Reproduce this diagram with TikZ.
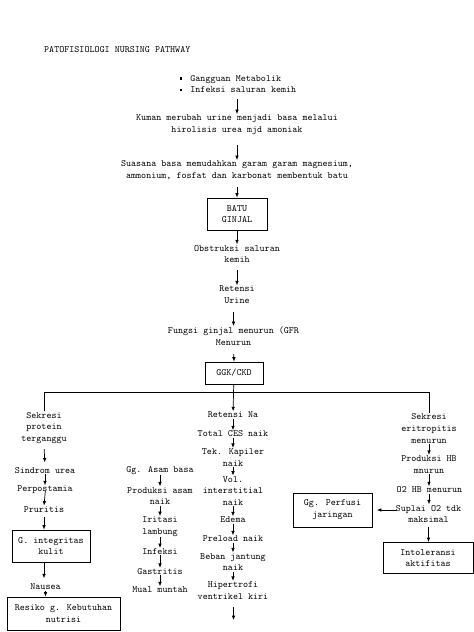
\documentclass[tikz,border=0pt]{standalone}
\usepackage{fontspec}
\usetikzlibrary{arrows.meta, positioning}
\tikzset{
    %Define standard arrow tip
    >={Latex[length=4.5pt,width=3.6pt]},
}
\newcommand{\sqbullet}{\rule[1.5pt]{2.2pt}{2.2pt}\hspace{8.5pt}}

\begin{document}
\begin{tikzpicture}[x=1pt, y=-1pt]
	\tikzset{
	  lbl/.style={align=center, inner sep=0.5pt,
	              font=\ttfamily\fontsize{9.6}{11.8}\selectfont},
	  bx/.style={lbl, draw, line width=0.7pt},
	  flow/.style={->, line width=0.7pt}
	}
	\useasboundingbox (0,0) rectangle (474,632);

	% main column
	\node[lbl, anchor=west] (title) at (43.5,50) {PATOFISIOLOGI NURSING PATHWAY};
	\node[lbl, anchor=west, align=left] (cause) at (179,84)
	     {\sqbullet Gangguan Metabolik\\ \sqbullet Infeksi saluran kemih};
	\node[lbl] (kuman) at (237,124.7) {Kuman merubah urine menjadi basa melalui\\ hirolisis urea mjd amoniak};
	\node[lbl] (suasana) at (237,170.3) {Suasana basa memudahkan garam garam magnesium,\\ ammonium, fosfat dan karbonat membentuk batu};
	\node[bx, minimum width=60pt, minimum height=32pt] (batu) at (237,214) {BATU\\ GINJAL};
	\node[lbl] (obstr) at (237,254) {Obstruksi saluran\\ kemih};
	\node[lbl] (retur) at (237,295) {Retensi\\ Urine};
	\node[lbl] (fungsi) at (233.5,336) {Fungsi ginjal menurun (GFR\\ Menurun};
	\node[bx, minimum width=58pt, minimum height=22pt] (ggk) at (234,373) {GGK/CKD};
	\coordinate (split) at (234,392.7);

	% left branch
	\node[lbl] (sekprot) at (44,428) {Sekresi\\ protein\\ terganggu};
	\node[lbl] (sindrom) at (45,470.7) {Sindrom urea};
	\node[lbl] (perpos) at (45,490) {Perpostamia};
	\node[lbl] (prurit) at (44,509.3) {Pruritis};
	\node[bx, minimum width=78pt, minimum height=32pt] (integ) at (51,546) {G. integritas\\ kulit};
	\node[lbl] (nausea) at (45.5,587) {Nausea};
	\node[bx, minimum width=113pt, minimum height=33pt] (nutri) at (63.5,613.5) {Resiko g. Kebutuhan\\ nutrisi};

	% second branch
	\node[lbl] (asam) at (160,470.7) {Gg. Asam basa};
	\node[lbl] (prodasam) at (160,496) {Produksi asam\\ naik};
	\node[lbl] (iritasi) at (160,526.7) {Iritasi\\ lambung};
	\node[lbl] (infeksi) at (160,551.7) {Infeksi};
	\node[lbl] (gastr) at (160,571.7) {Gastritis};
	\node[lbl] (mual) at (160,590) {Mual muntah};

	% centre branch
	\node[lbl] (retna) at (233,415) {Retensi Na};
	\node[lbl] (ces) at (233,434) {Total CES naik};
	\node[lbl] (kapiler) at (233,457.5) {Tek. Kapiler\\ naik};
	\node[lbl] (vol) at (233,491) {Vol.\\ interstitial\\ naik};
	\node[lbl] (edema) at (233,520) {Edema};
	\node[lbl] (preload) at (233,539) {Preload naik};
	\node[lbl] (beban) at (233,562) {Beban jantung\\ naik};
	\node[lbl] (hiper) at (233,590.5) {Hipertrofi\\ ventrikel kiri};
	\coordinate (tail) at (233.5,607);
	\coordinate (tailend) at (233.5,620);

	% right branch
	\node[lbl] (sekeri) at (429,428.3) {Sekresi\\ eritropitis\\ menurun};
	\node[lbl] (prodhb) at (429,464.5) {Produksi HB\\ mnurun};
	\node[lbl] (otwohb) at (429.5,490) {O2 HB menurun};
	\node[lbl] (suplai) at (428.5,514) {Suplai O2 tdk\\ maksimal};
	\node[bx, minimum width=79pt, minimum height=34pt] (perfusi) at (332.5,510) {Gg. Perfusi\\ jaringan};
	\node[bx, minimum width=90pt, minimum height=31pt] (intol) at (428,558) {Intoleransi\\ aktifitas};

	\path[flow] (kuman |- cause.south) edge[shorten <=5.5pt] (kuman.north)
	            (kuman.south) edge[shorten <=10pt] (suasana.north)
	            (suasana.south) edge[shorten <=6pt] (batu.north)
	            (batu) edge (obstr)
	            (obstr.south) edge[shorten <=6.5pt] (retur.north)
	            (fungsi |- retur.south) edge[shorten <=7pt] (fungsi.north)
	            (fungsi.south) edge[shorten <=8pt] (ggk.north)
	            (ggk) edge (retna);

	\draw[line width=0.7pt] (sekprot.north) |- (split) -| (sekeri.north);

	\path[flow] (sekprot.south) edge[shorten <=4.5pt, shorten >=4.5pt] (sindrom.north)
	            (sindrom) edge (perpos)
	            (perpos.south) edge[shorten <=-4pt] (prurit.north)
	            (prurit) edge[shorten <=4pt] (prurit |- integ.north)
	            (prurit |- integ.south) edge[shorten >=5pt] (prurit |- nausea.north)
	            (nausea) edge (nausea |- nutri.north);

	\path[flow] (asam) edge (prodasam)
	            (prodasam) edge (iritasi)
	            (iritasi) edge (infeksi)
	            (infeksi) edge (gastr)
	            (gastr) edge (mual);

	\path[flow] (retna) edge (ces)
	            (ces) edge (kapiler)
	            (kapiler) edge (vol)
	            (vol) edge (edema)
	            (edema) edge (preload)
	            (preload) edge (beban)
	            (beban) edge (hiper)
	            (tail) edge (tailend);

	\path[flow] (sekeri) edge (prodhb)
	            (prodhb) edge (prodhb |- otwohb.north)
	            (prodhb |- otwohb.south) edge (prodhb |- suplai.north)
	            (suplai.south) edge[shorten <=3pt] (suplai |- intol.north)
	            (suplai.west |- perfusi.east) edge[shorten <=-2pt, shorten >=4.5pt] (perfusi.east);

\end{tikzpicture}
\end{document}
